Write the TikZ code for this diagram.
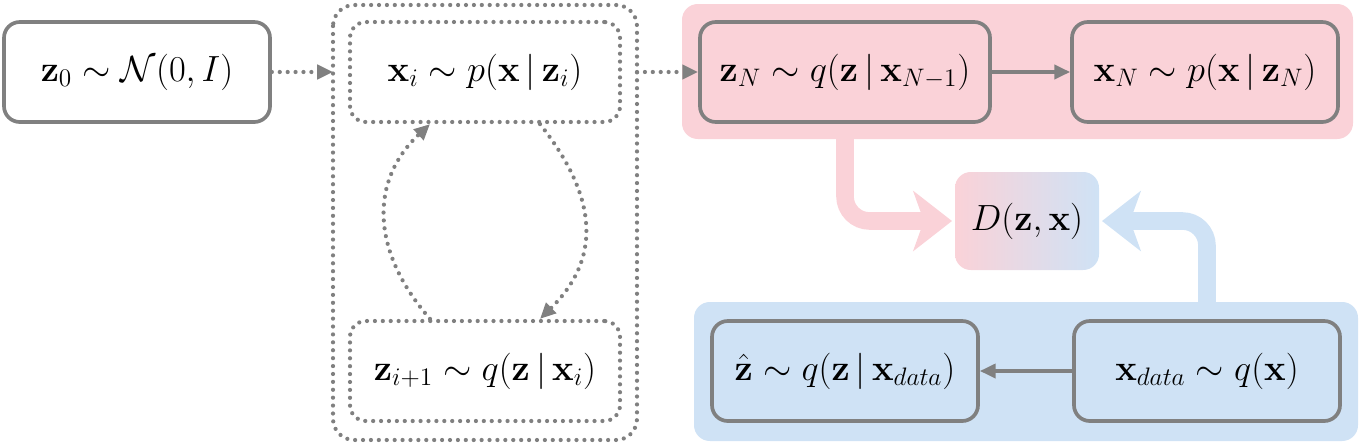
\documentclass[tikz,border=0pt]{standalone}
\usepackage{amsmath,amssymb}
\usetikzlibrary{arrows.meta}
\definecolor{gr}{RGB}{128,128,128}
\definecolor{pk}{RGB}{250,210,216}
\definecolor{bl}{RGB}{207,226,245}
\begin{document}
\begin{tikzpicture}[x=0.02cm,y=-0.02cm,
  solidbox/.style={draw=gr,line width=2.1pt,rounded corners=9pt,minimum width=#1*0.02cm,minimum height=100*0.02cm,font=\fontsize{20.5}{24}\selectfont,inner sep=0pt},
  dotbox/.style={solidbox=#1,dash pattern=on 0pt off 4.5pt,line cap=round,line width=2.4pt},
  dotarr/.style={draw=gr,line width=2.4pt,dash pattern=on 0pt off 4.5pt,line cap=round,-{Triangle[length=9pt,width=8pt,line cap=butt]}},
  solarr/.style={draw=gr,line width=2pt,-{Triangle[length=9pt,width=8pt]}},
  fat/.style={line width=10pt,rounded corners=14pt,-{Stealth[length=22pt,width=34pt,inset=6pt]},draw=#1}]
\useasboundingbox (0,0) rectangle (1363,443);
\fill[pk,rounded corners=9pt] (682,4) rectangle (1353,139);
\fill[bl,rounded corners=9pt] (694,302) rectangle (1358,441);
\draw[gr,line width=2.4pt,dash pattern=on 0pt off 4.5pt,line cap=round,rounded corners=12pt] (333,5) rectangle (637,440);
\node[solidbox=266] (z0) at (137,72) {$\mathbf{z}_0\sim\mathcal{N}(0,I)$};
\node[dotbox=270] (xi) at (485,72) {$\mathbf{x}_i\sim p(\mathbf{x}\,|\,\mathbf{z}_i)$};
\node[dotbox=270] (zi) at (485,371) {$\mathbf{z}_{i+1}\sim q(\mathbf{z}\,|\,\mathbf{x}_i)$};
\node[solidbox=290] (zN) at (845,72) {$\mathbf{z}_N\sim q(\mathbf{z}\,|\,\mathbf{x}_{N-1})$};
\node[solidbox=266] (xN) at (1205,72) {$\mathbf{x}_N\sim p(\mathbf{x}\,|\,\mathbf{z}_N)$};
\node[solidbox=266] (zh) at (845,371) {$\hat{\mathbf{z}}\sim q(\mathbf{z}\,|\,\mathbf{x}_{data})$};
\node[solidbox=266] (xd) at (1207,371) {$\mathbf{x}_{data}\sim q(\mathbf{x})$};
\shade[left color=pk,right color=bl,rounded corners=9pt] (955,172) rectangle (1099,270);
\node[font=\fontsize{20.5}{24}\selectfont] (D) at (1027,221) {$D(\mathbf{z},\mathbf{x})$};
\coordinate (Dl) at (952,221);
\coordinate (Dr) at (1102,221);
\coordinate (out1) at (333,72);
\coordinate (out2) at (637,72);
\draw[dotarr] (z0.east) -- (out1);
\draw[dotarr] (out2) -- (zN.west);
\draw[solarr] (zN.east) -- (xN.west);
\draw[solarr] (xd.west) -- (zh.east);
\draw[dotarr] ([xshift=55*0.02cm]xi.south) .. controls (600,200) and (600,260) .. ([xshift=55*0.02cm]zi.north);
\draw[dotarr] ([xshift=-55*0.02cm]zi.north) .. controls (370,250) and (370,180) .. ([xshift=-55*0.02cm]xi.south);
\draw[fat=pk] (845,139) -- (845,221) -- (Dl);
\draw[fat=bl] (1207,302) -- (1207,221) -- (Dr);
\end{tikzpicture}
\end{document}
